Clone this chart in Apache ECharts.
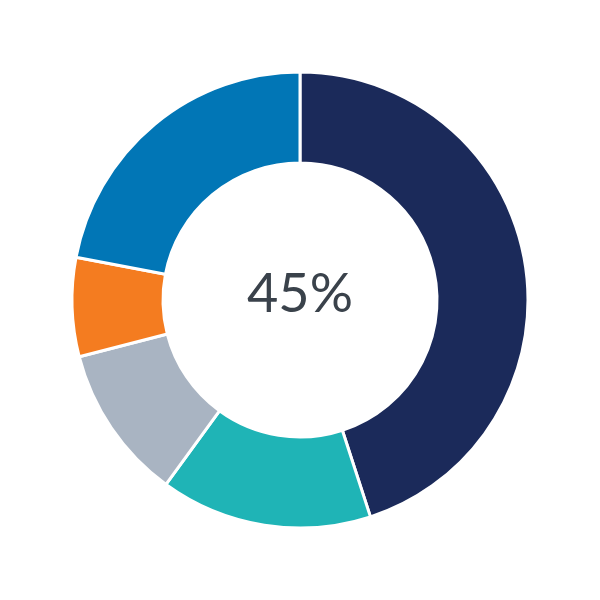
<!DOCTYPE html>
<html lang="en">
<head>
	<meta charset="UTF-8">
	<title>Donut</title>
	<script src="https://cdn.jsdelivr.net/npm/echarts@6/dist/echarts.min.js"></script>
	<style>
		html, body { margin: 0; padding: 0; background: #fff; }
	</style>
</head>
<body>
	<div id="chart" style="width: 600px; height: 600px;"></div>
	<script type="text/javascript">
		const names = ['A', 'B', 'C', 'D', 'E'];
		const values = [45, 15, 11, 7, 22];
		const colors = ['#1b2a5a', '#1fb4b6', '#a9b4c2', '#f47c20', '#0176b6'];
		const centerLabel = '45%';

		const chart = echarts.init(document.getElementById('chart'));
		chart.setOption({
			animation: false,
			graphic: [{
				type: 'text',
				left: 'center',
				top: 268,
				style: {
					text: centerLabel,
					fontFamily: 'Lato',
					fontWeight: 'normal',
					fontSize: 54,
					fill: '#3a424b'
				}
			}],
			series: [{
				type: 'pie',
				center: [300, 300],
				radius: [137, 228],
				startAngle: 90,
				clockwise: true,
				label: { show: false },
				labelLine: { show: false },
				itemStyle: {
					borderColor: '#fff',
					borderWidth: 3
				},
				emphasis: { disabled: true },
				data: names.map((n, i) => ({
					name: n,
					value: values[i],
					itemStyle: { color: colors[i] }
				}))
			}]
		});
	</script>
</body>
</html>
